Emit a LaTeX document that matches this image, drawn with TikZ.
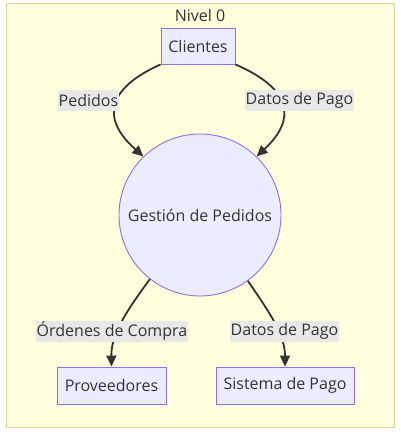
\documentclass[tikz,border=0pt]{standalone}
\usepackage{fontspec}
\setmainfont{Open Sans}
\usetikzlibrary{arrows.meta}
\definecolor{clfill}{HTML}{FFFFDE}
\definecolor{clstroke}{HTML}{D6D6A0}
\definecolor{nfill}{HTML}{ECECFF}
\definecolor{nstroke}{HTML}{9370DB}
\definecolor{txt}{HTML}{333333}
\definecolor{lblbg}{HTML}{E8E8E8}
\tikzset{
  box/.style={draw=nstroke, fill=nfill, line width=0.9pt, inner sep=0pt},
  circ/.style={circle, draw=nstroke, fill=nfill, line width=0.9pt, inner sep=0pt, minimum size=162pt},
  lbl/.style={fill=lblbg, inner xsep=1pt, inner ysep=0pt, minimum height=21pt},
  edge/.style={draw=txt, line width=1.8pt, -{Triangle[length=11pt,width=10pt]}},
}
\begin{document}
\begin{tikzpicture}[x=1pt,y=-1pt, font=\fontsize{16}{19}\selectfont, text=txt]
\useasboundingbox (0,0) rectangle (400,437);
\draw[clstroke, fill=clfill, line width=1.5pt] (6.5,3.5) rectangle (394.5,427.5);
\node (title) at (200,15) {Nivel 0};
\node[box, minimum width=74pt, minimum height=36pt] (cli) at (198,46) {Clientes};
\node[circ] (ges) at (200,215) {Gestión de Pedidos};
\node[box, minimum width=109pt, minimum height=37pt] (prov) at (111.5,385.5) {Proveedores};
\node[box, minimum width=138pt, minimum height=37pt] (sys) at (285,385.5) {Sistema de Pago};
\draw[edge] (cli.south west) .. controls (108,88) and (100,118) .. (ges.134);
\draw[edge] (cli.south east) .. controls (290,88) and (298,118) .. (ges.46);
\draw[edge] (ges.232) .. controls (125,313) and (111,335) .. (prov.north);
\draw[edge] (ges.-54) .. controls (270,313) and (285,335) .. (sys.north);
\node[lbl] (l1) at (88.5,100.5) {Pedidos};
\node[lbl] (l2) at (299.5,100.5) {Datos de Pago};
\node[lbl] (l3) at (112,331) {Órdenes de Compra};
\node[lbl] (l4) at (284.5,331) {Datos de Pago};
\end{tikzpicture}
\end{document}
